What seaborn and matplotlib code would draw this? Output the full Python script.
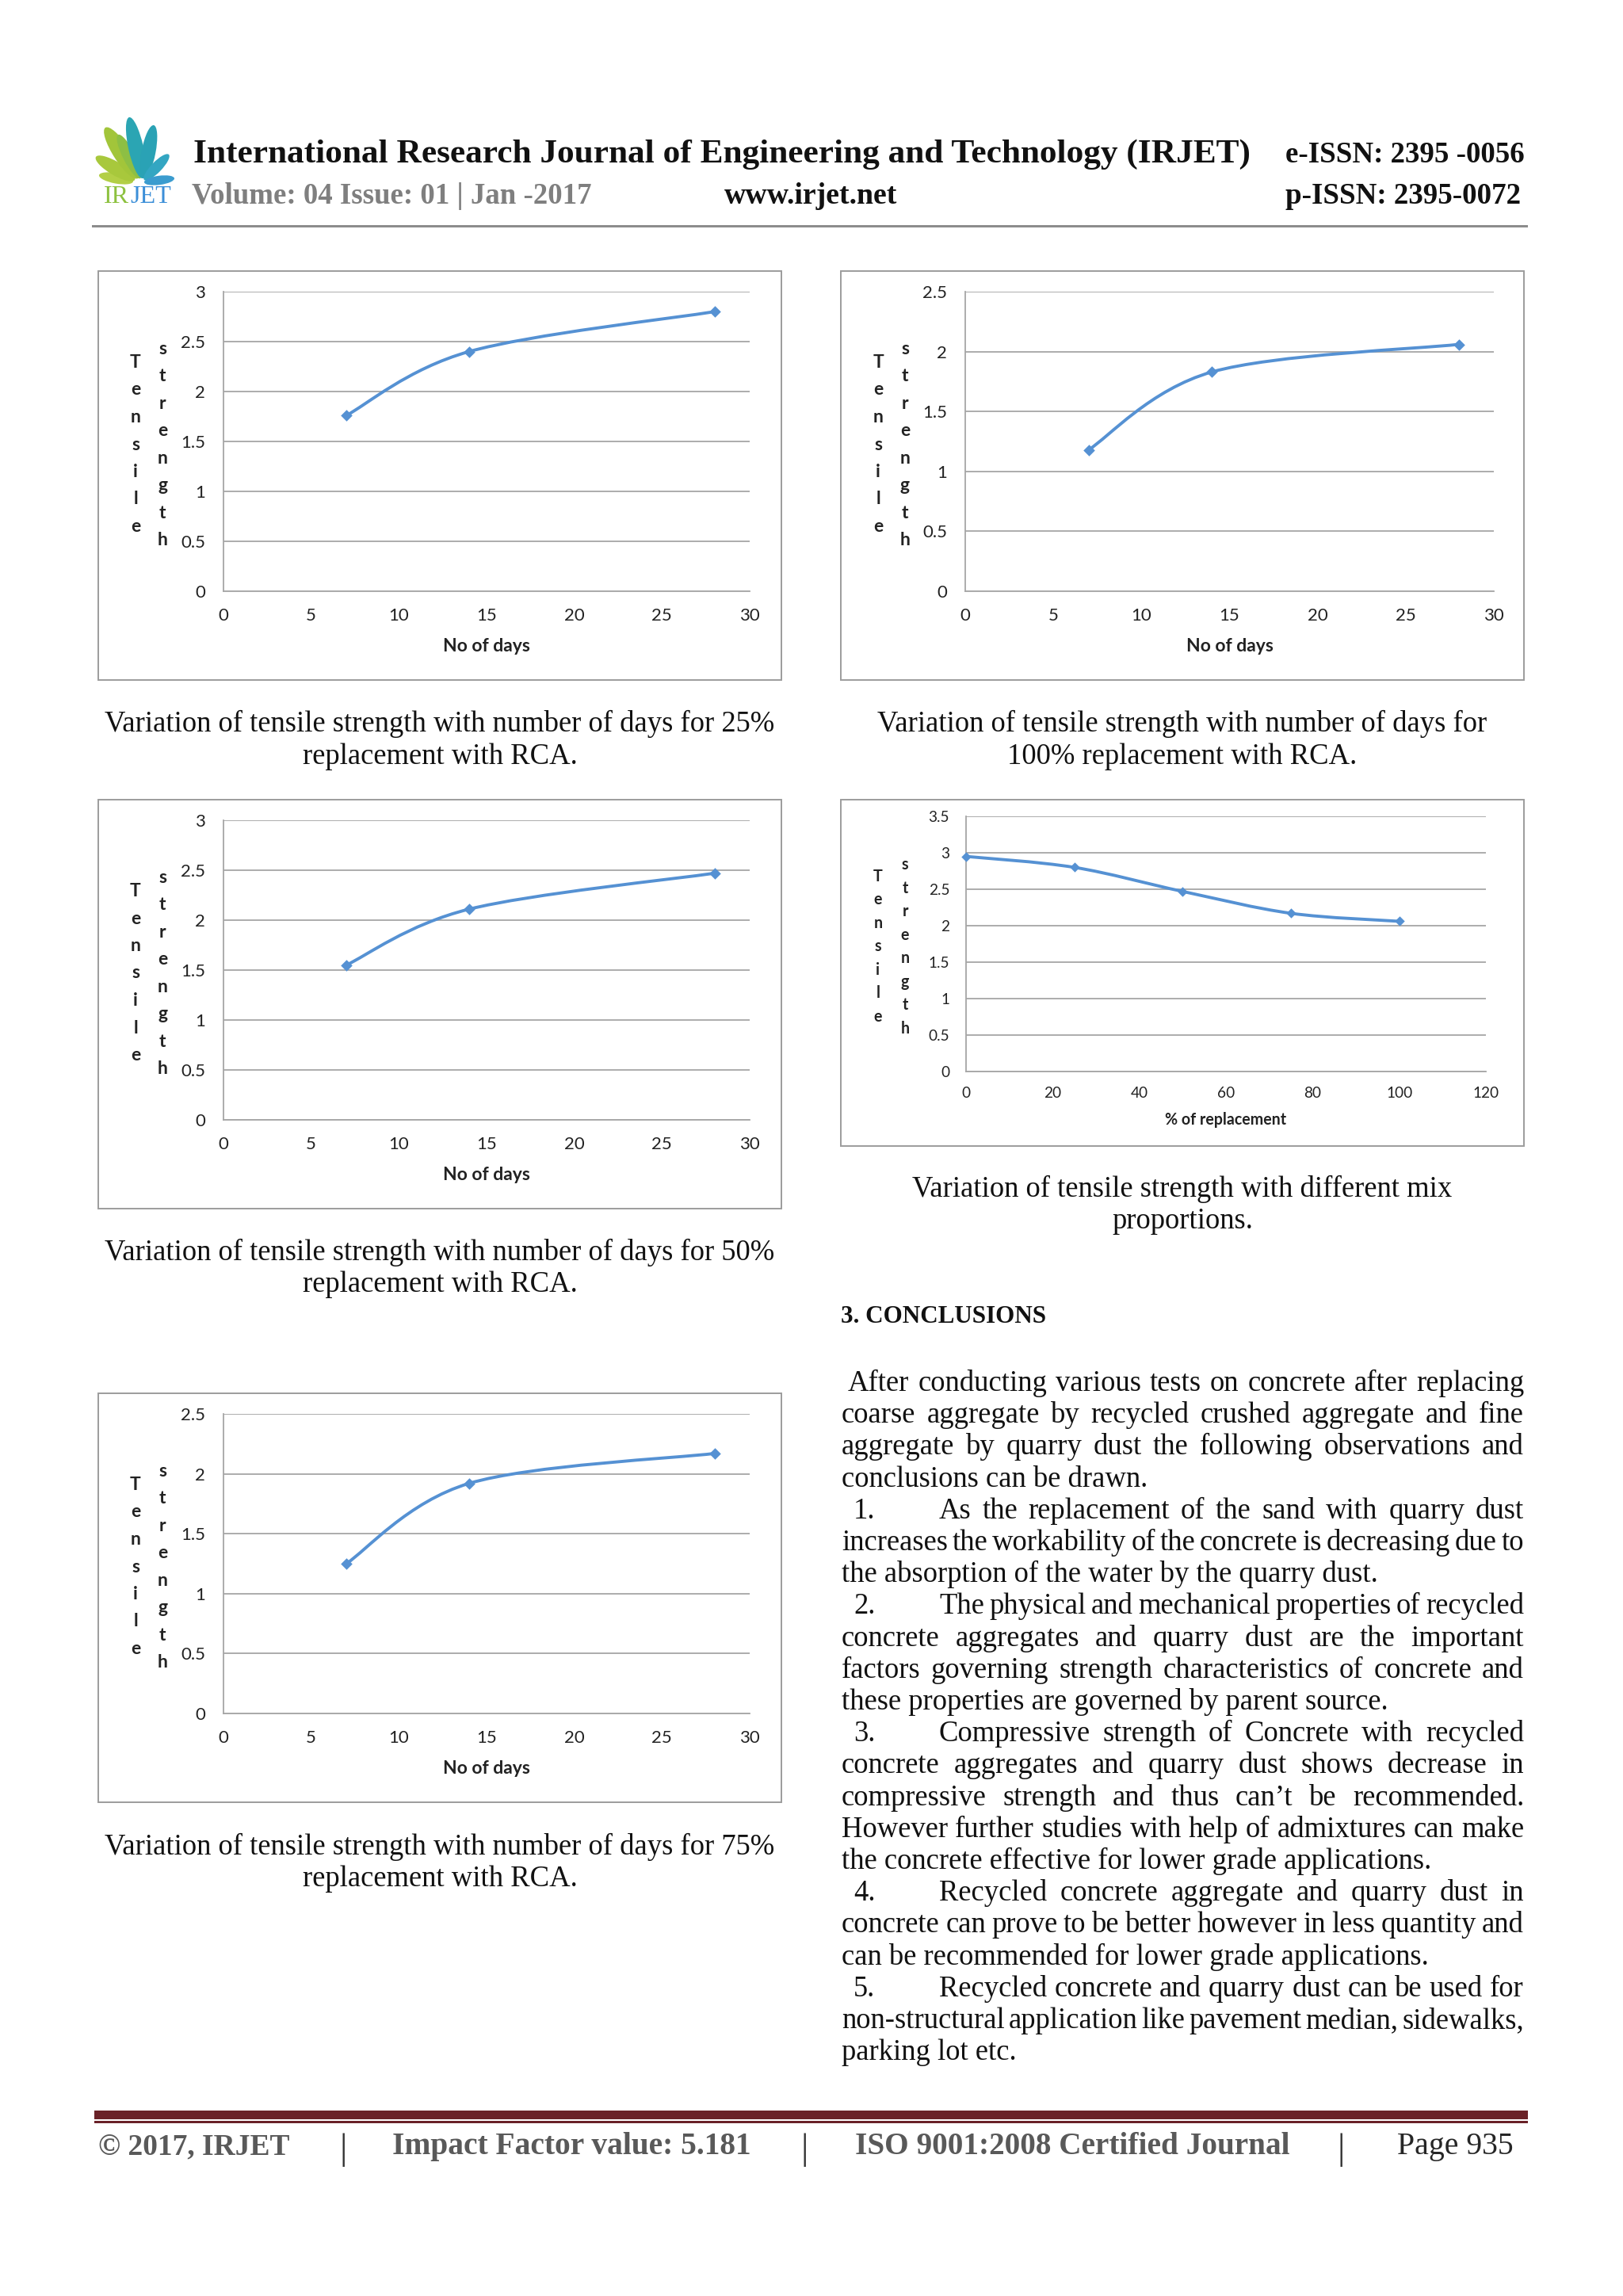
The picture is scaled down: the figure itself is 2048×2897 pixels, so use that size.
import numpy as np
import pandas as pd
import matplotlib
matplotlib.use("Agg")
import matplotlib.pyplot as plt
import seaborn as sns
from matplotlib import font_manager
from matplotlib.patches import Rectangle, Ellipse, PathPatch
from matplotlib.path import Path
from matplotlib.ticker import FuncFormatter

# values
days = [7, 14, 28]
tensile_25 = [1.76, 2.40, 2.80]
tensile_100 = [1.18, 1.83, 2.06]
tensile_50 = [1.55, 2.11, 2.47]
tensile_75 = [1.25, 1.92, 2.17]
replacement = [0, 25, 50, 75, 100]
tensile_mix = [2.95, 2.80, 2.47, 2.17, 2.06]

days_ticks = [0, 5, 10, 15, 20, 25, 30]
repl_ticks = [0, 20, 40, 60, 80, 100, 120]
yticks_30 = [0, 0.5, 1, 1.5, 2, 2.5, 3]
yticks_25 = [0, 0.5, 1, 1.5, 2, 2.5]
yticks_35 = [0, 0.5, 1, 1.5, 2, 2.5, 3, 3.5]

captions = [
    ["Variation of tensile strength with number of days for 25%", "replacement with RCA."],
    ["Variation of tensile strength with number of days for", "100% replacement with RCA."],
    ["Variation of tensile strength with number of days for 50%", "replacement with RCA."],
    ["Variation of tensile strength with different mix", "proportions."],
    ["Variation of tensile strength with number of days for 75%", "replacement with RCA."],
]

conclusions = [
    (None, ["After conducting various tests on concrete after replacing",
            "coarse aggregate by recycled crushed aggregate and fine",
            "aggregate by quarry dust the following observations and",
            "conclusions can be drawn."]),
    ("1.", ["As the replacement of the sand with quarry dust",
            "increases the workability of the concrete is decreasing due to",
            "the absorption of the water by the quarry dust."]),
    ("2.", ["The physical and mechanical properties of recycled",
            "concrete aggregates and quarry dust are the important",
            "factors governing strength characteristics of concrete and",
            "these properties are governed by parent source."]),
    ("3.", ["Compressive strength of Concrete with recycled",
            "concrete aggregates and quarry dust shows decrease in",
            "compressive strength and thus can\u2019t be recommended.",
            "However further studies with help of admixtures can make",
            "the concrete effective for lower grade applications."]),
    ("4.", ["Recycled concrete aggregate and quarry dust in",
            "concrete can prove to be better however in less quantity and",
            "can be recommended for lower grade applications."]),
    ("5.", ["Recycled concrete and quarry dust can be used for",
            "non-structural application like pavement median, sidewalks,",
            "parking lot etc."]),
]

# ---- fonts / colours ----
names = {f.name for f in font_manager.fontManager.ttflist}


def pick(*cands):
    for c in cands:
        if c in names:
            return c
    return "DejaVu Sans"


SERIF = pick("Liberation Serif", "DejaVu Serif")
SANS = pick("Lato", "Open Sans", "Liberation Sans", "DejaVu Sans")

sns.set_theme(style="white")
plt.rcParams["font.family"] = [SANS, "DejaVu Sans"]

BLUE = "#5591D3"
GRID = "#A6A6A6"
FRAME = "#9C9C9C"
TICK_TXT = "#222222"
TEXT = "#111111"

W, H = 2048, 2897
fig = plt.figure(figsize=(W / 100, H / 100), dpi=100)
page = fig.add_axes([0, 0, 1, 1])
page.set_xlim(0, W)
page.set_ylim(H, 0)
page.axis("off")
renderer = fig.canvas.get_renderer()


def measure(s, size, weight="normal", family=SERIF):
    t = page.text(0, 0, s, fontsize=size, fontweight=weight, family=family)
    w = t.get_window_extent(renderer).width
    t.remove()
    return w


def fit(x0, x1, y, s, weight="bold", color=TEXT, family=SERIF):
    size = 20 * (x1 - x0) / measure(s, 20, weight, family)
    page.text(x0, y, s, fontsize=size, fontweight=weight, family=family,
              color=color, ha="left", va="baseline")
    return size


def put_line(x0, x1, y, s, size, justify):
    if not justify:
        page.text(x0, y, s, fontsize=size, family=SERIF, color=TEXT,
                  ha="left", va="baseline")
        return
    words = s.split()
    widths = [measure(w, size) for w in words]
    gap = (x1 - x0 - sum(widths)) / (len(words) - 1)
    x = x0
    for w, wd in zip(words, widths):
        page.text(x, y, w, fontsize=size, family=SERIF, color=TEXT,
                  ha="left", va="baseline")
        x += wd + gap


def smooth_path(xs, ys):
    pts = np.column_stack([xs, ys]).astype(float)
    n = len(pts)
    verts, codes = [pts[0]], [Path.MOVETO]
    for i in range(n - 1):
        p0, p1 = pts[max(i - 1, 0)], pts[i]
        p2, p3 = pts[i + 1], pts[min(i + 2, n - 1)]
        verts += [p1 + (p2 - p0) / 6, p2 - (p3 - p1) / 6, p2]
        codes += [Path.CURVE4] * 3
    return Path(verts, codes)


def draw_chart(x, y, xticks, yticks, xlabel, frame, plot, k=1.0):
    fl, ft, fr, fb = frame
    page.add_patch(Rectangle((fl, ft), fr - fl, fb - ft, fill=False, ec=FRAME, lw=1.4))
    pl, pt, pr, pb = plot
    ax = fig.add_axes([pl / W, 1 - pb / H, (pr - pl) / W, (pb - pt) / H])
    ax.set_facecolor("none")
    df = pd.DataFrame({"x": x, "y": y})
    ax.add_patch(PathPatch(smooth_path(x, y), fill=False, ec=BLUE, lw=2.8,
                           capstyle="round", zorder=3, clip_on=False))
    sns.scatterplot(data=df, x="x", y="y", marker="D", s=55 * k * k, color=BLUE,
                    linewidth=0, ax=ax, zorder=4, clip_on=False, legend=False)
    ax.set_xlim(xticks[0], xticks[-1])
    ax.set_ylim(yticks[0], yticks[-1])
    ax.set_xticks(xticks)
    ax.set_yticks(yticks)
    ax.yaxis.set_major_formatter(FuncFormatter(lambda v, _: f"{v:g}"))
    ax.grid(axis="y", color=GRID, lw=1.3)
    ax.grid(axis="x", visible=False)
    ax.set_axisbelow(True)
    for s in ("top", "right"):
        ax.spines[s].set_visible(False)
    for s in ("left", "bottom"):
        ax.spines[s].set_color(GRID)
        ax.spines[s].set_linewidth(1.3)
    ax.tick_params(axis="x", direction="out", length=5, width=1.3, color=GRID,
                   pad=10 * k, labelsize=16 * k, labelcolor=TICK_TXT)
    ax.tick_params(axis="y", direction="out", length=6.5, width=1.3, color=GRID,
                   pad=10 * k, labelsize=16 * k, labelcolor=TICK_TXT)
    ax.set_xlabel(xlabel, fontsize=16.5 * k, fontweight="bold", color=TICK_TXT,
                  labelpad=13 * k)
    ax.set_ylabel("")
    # stacked y-axis title, one letter per line
    cy = (pt + pb) / 2 + 4 * k
    sp = 34.5 * k
    for cx, word in ((fl + 47, "Tensile"), (fl + 81, "strength")):
        n = len(word)
        for i, ch in enumerate(word):
            page.text(cx, cy + (i - (n - 1) / 2) * sp, ch, ha="center", va="center",
                      fontsize=16.5 * k, fontweight="bold", color=TICK_TXT, family=SANS)
    return ax


# ---- header ----
leaves = [
    ((125, 221), (168, 229), "#B3CF46", 0.30),
    ((121, 198), (170, 227), "#A8C83C", 0.30),
    ((133, 161), (174, 225), "#A2C53A", 0.28),
    ((149, 170), (177, 225), "#8DBF44", 0.25),
    ((163, 148), (180, 225), "#2BA5B3", 0.24),
    ((194, 158), (181, 225), "#2AA2B5", 0.26),
    ((213, 195), (182, 227), "#33A6C2", 0.30),
    ((220, 225), (182, 230), "#3B9CCF", 0.30),
]
for tip, base, col, th in leaves:
    tip, base = np.array(tip, float), np.array(base, float)
    d = tip - base
    ln = np.hypot(*d)
    page.add_patch(Ellipse((tip + base) / 2, ln, ln * th,
                           angle=np.degrees(np.arctan2(d[1], d[0])), color=col, lw=0))
ir_size = 20 * 84 / measure("IRJET", 20)
page.text(131, 256, "IR", fontsize=ir_size, family=SERIF, color="#8DC13F", va="baseline")
page.text(131 + measure("IR", ir_size) + 1, 256, "JET", fontsize=ir_size, family=SERIF,
          color="#3C8FD8", va="baseline")

fit(244, 1576, 205, "International Research Journal of Engineering and Technology (IRJET)")
fit(1622, 1923, 205, "e-ISSN: 2395 -0056")
fit(242, 747, 257, "Volume: 04 Issue: 01 | Jan -2017", color="#7F7F7F")
fit(914, 1132, 257, "www.irjet.net")
fit(1622, 1918, 257, "p-ISSN: 2395-0072")
page.add_patch(Rectangle((116, 284), 1812, 3, color="#8C8C8C", lw=0))

# ---- charts ----
draw_chart(days, tensile_25, days_ticks, yticks_30, "No of days",
           (124, 342, 986, 858), (282, 368, 946, 746))
draw_chart(days, tensile_100, days_ticks, yticks_25, "No of days",
           (1061, 342, 1923, 858), (1218, 368, 1885, 746))
draw_chart(days, tensile_50, days_ticks, yticks_30, "No of days",
           (124, 1009, 986, 1525), (282, 1035, 946, 1413))
draw_chart(replacement, tensile_mix, repl_ticks, yticks_35, "% of replacement",
           (1061, 1009, 1923, 1446), (1219, 1030, 1875, 1352), k=0.855)
draw_chart(days, tensile_75, days_ticks, yticks_25, "No of days",
           (124, 1758, 986, 2274), (282, 1784, 946, 2162))

# ---- captions ----
body_size = 20 * 846 / measure(captions[0][0], 20)
cap_pos = [(555, 923), (1492, 923), (555, 1590), (1492, 1510), (555, 2340)]
for (cx, by), lines in zip(cap_pos, captions):
    for j, s in enumerate(lines):
        page.text(cx, by + 40.5 * j, s, fontsize=body_size, family=SERIF, color=TEXT,
                  ha="center", va="baseline")

# ---- conclusions ----
fit(1061, 1320, 1669, "3. CONCLUSIONS")
X0, X1 = 1062, 1923
row = 0
for num, lines in conclusions:
    for j, s in enumerate(lines):
        y = 1755 + 40.2 * row
        x0 = X0
        if j == 0 and num is None:
            x0 = 1070
        elif j == 0:
            page.text(1077, y, num, fontsize=body_size, family=SERIF, color=TEXT,
                      ha="left", va="baseline")
            x0 = 1185
        put_line(x0, X1, y, s, body_size, justify=(j < len(lines) - 1))
        row += 1

# ---- footer ----
page.add_patch(Rectangle((119, 2663), 1809, 11, color="#6A2228", lw=0))
page.add_patch(Rectangle((119, 2676), 1809, 3, color="#6A2228", lw=0))
fit(124, 365, 2718, "\u00a9 2017, IRJET", color="#595959")
fit(495, 949, 2718, "Impact Factor value: 5.181", color="#595959")
fit(1079, 1627, 2718, "ISO 9001:2008 Certified Journal", color="#595959")
fit(1763, 1910, 2718, "Page 935", weight="normal", color="#262626")
for sx in (433, 1015, 1692):
    page.text(sx, 2724, "|", fontsize=34, family=SERIF, color="#333333",
              ha="center", va="baseline")

fig.savefig("out.png", dpi=100)
